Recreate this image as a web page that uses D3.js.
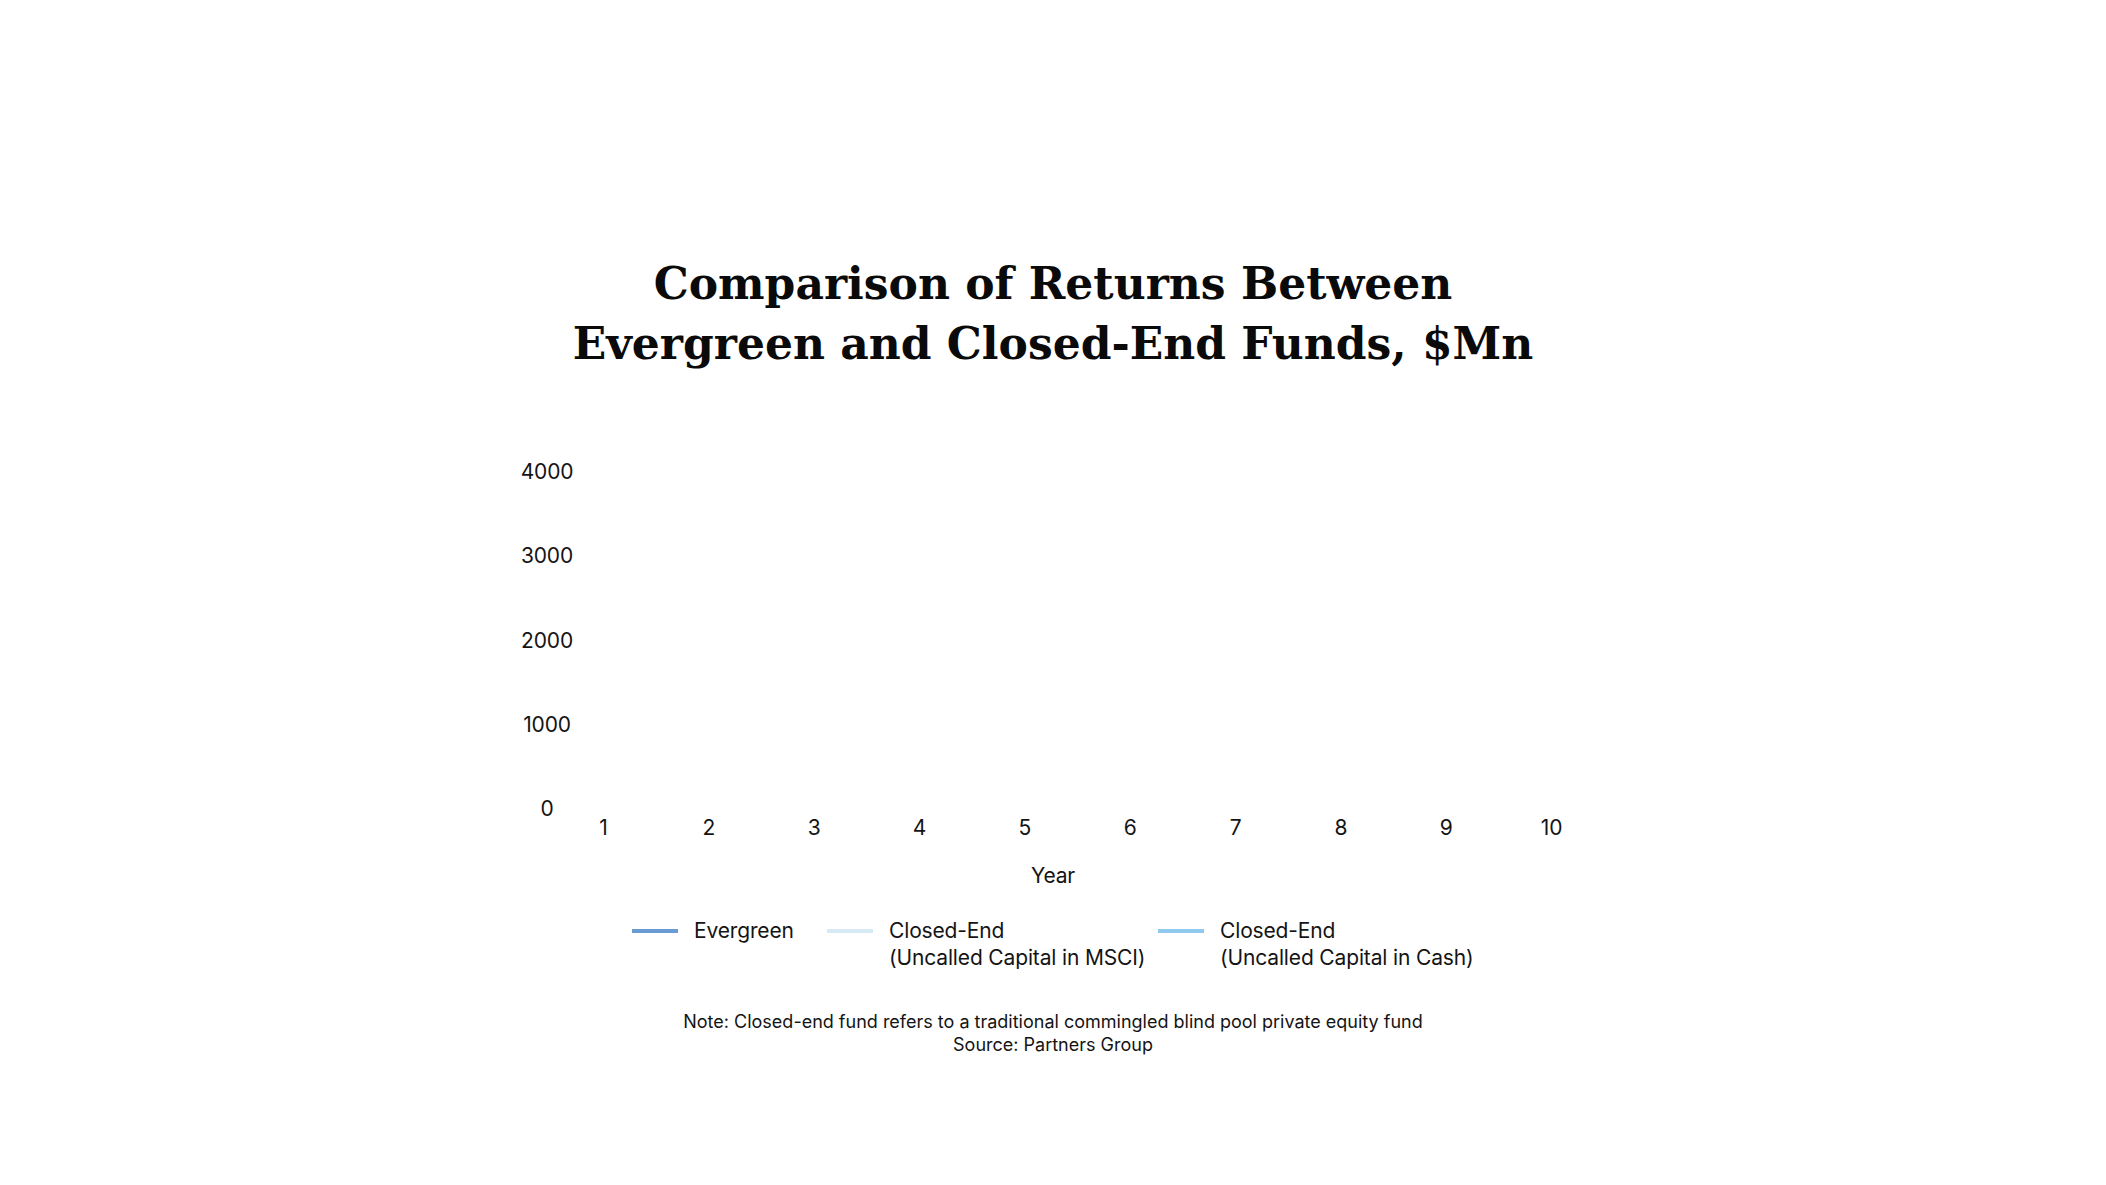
<!DOCTYPE html>
<html>
<head>
<meta charset="utf-8">
<script src="https://cdn.jsdelivr.net/npm/d3@7"></script>
<style>
  body { margin: 0; background: #fff; }
  text { font-family: Inter, "Noto Sans", sans-serif; fill: #141414; }
</style>
</head>
<body>
<div id="chart"></div>
<script>
// chart data
const years = [1, 2, 3, 4, 5, 6, 7, 8, 9, 10]
const yTicks = [0, 1000, 2000, 3000, 4000]
const seriesNames = ["Evergreen", "Closed-End\n(Uncalled Capital in MSCI)", "Closed-End\n(Uncalled Capital in Cash)"]
const seriesColors = ["#6a9bd3", "#d7e9f5", "#91c9ee"]
// no line values are visible in the picture, so the series stay empty
const evergreenValues = []
const msciValues = []
const cashValues = []
const titleLines = ["Comparison of Returns Between", "Evergreen and Closed-End Funds, $Mn"]
const noteLines = ["Note: Closed-end fund refers to a traditional commingled blind pool private equity fund", "Source: Partners Group"]

const width = 2106, height = 1185

const svg = d3.select("#chart")
    .append("svg")
    .attr("width", width)
    .attr("height", height)

// title
svg.append("g")
    .selectAll("text")
    .data(titleLines)
    .enter()
    .append("text")
    .attr("x", width / 2)
    .attr("y", (d, i) => 299 + i * 60)
    .attr("text-anchor", "middle")
    .style("font-family", "'DejaVu Serif', serif")
    .style("font-weight", "bold")
    .style("font-size", "44px")
    .style("fill", "#0a0a0a")
    .text(d => d)

// scales
const x = d3.scalePoint()
    .domain(years)
    .range([603, 1551])
const y = d3.scaleLinear()
    .domain([0, 4000])
    .range([809, 472])

// y axis, labels only
const yAxis = svg.append("g")
    .attr("transform", "translate(547,0)")
    .call(d3.axisLeft(y).tickValues(yTicks).tickSize(0).tickPadding(0).tickFormat(d3.format("d")))
yAxis.select(".domain").remove()
yAxis.selectAll("text")
    .attr("text-anchor", "middle")
    .attr("x", 0)
    .style("font-family", "Inter, sans-serif")
    .style("font-size", "21px")
    .style("letter-spacing", "-0.15px")
    .style("fill", "#141414")

// x axis, labels only
const xAxis = svg.append("g")
    .attr("transform", "translate(0,828)")
    .call(d3.axisBottom(x).tickSize(0).tickPadding(0))
xAxis.select(".domain").remove()
xAxis.selectAll("text")
    .attr("y", 0)
    .attr("dy", "0.35em")
    .style("font-family", "Inter, sans-serif")
    .style("font-size", "21px")
    .style("letter-spacing", "-0.15px")
    .style("fill", "#141414")

svg.append("text")
    .attr("x", 1053)
    .attr("y", 876)
    .attr("dy", "0.35em")
    .attr("text-anchor", "middle")
    .style("font-size", "21px")
    .style("letter-spacing", "-0.15px")
    .text("Year")

// lines
const line = d3.line()
    .x((d, i) => x(years[i]))
    .y(d => y(d))
const allSeries = [evergreenValues, msciValues, cashValues]
allSeries.forEach((values, i) => {
    if (values.length === 0) return
    svg.append("path")
        .datum(values)
        .attr("fill", "none")
        .attr("stroke", seriesColors[i])
        .attr("stroke-width", 4)
        .attr("d", line)
})

// legend
const legendX = [632, 827, 1158]
const legend = svg.append("g")
    .selectAll("g")
    .data(seriesNames)
    .enter()
    .append("g")
    .attr("transform", (d, i) => `translate(${legendX[i]},931)`)
legend.append("line")
    .attr("x1", 0)
    .attr("x2", 46)
    .attr("y1", 0)
    .attr("y2", 0)
    .attr("stroke", (d, i) => seriesColors[i])
    .attr("stroke-width", 4)
legend.append("text")
    .attr("x", 62)
    .attr("y", 0)
    .style("font-size", "21px")
    .style("letter-spacing", "-0.15px")
    .selectAll("tspan")
    .data(d => d.split("\n"))
    .enter()
    .append("tspan")
    .attr("x", 62)
    .attr("y", (d, i) => i * 26.5)
    .attr("dy", "0.35em")
    .text(d => d)

// note and source
svg.append("g")
    .selectAll("text")
    .data(noteLines)
    .enter()
    .append("text")
    .attr("x", 1053)
    .attr("y", (d, i) => 1022 + i * 23)
    .attr("dy", "0.35em")
    .attr("text-anchor", "middle")
    .style("font-size", "18px")
    .text(d => d)
</script>
</body>
</html>
